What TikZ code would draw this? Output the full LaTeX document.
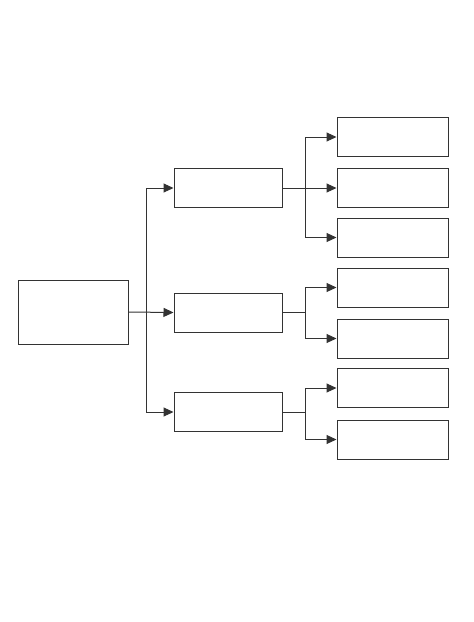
\documentclass[tikz,border=0pt]{standalone}
\usetikzlibrary{arrows.meta}
\tikzset{
 box/.style={draw, rectangle, inner sep=0pt, minimum width=#1, minimum height=39pt},
 arr/.style={-{Triangle[length=10pt,width=9pt]}},
}
\def \midx{228}
\def \leafx{392.5}

\begin{document}
\begin{tikzpicture}[x=1pt, y=-1pt, line width=1pt, color=black!80]
\useasboundingbox (0,0) rectangle (474,622);

\node[box=110pt, minimum height=64pt] (root) at (73, 312) {};

\node[box=108pt] (m1) at (\midx, 188) {};
\node[box=108pt] (m2) at (\midx, 312.5) {};
\node[box=108pt] (m3) at (\midx, 412) {};

\foreach \i/\y in {1/137, 2/188, 3/237.5, 4/287.5, 5/338.5, 6/388, 7/439.5}
 \node[box=111pt] (l\i) at (\leafx, \y) {};

\draw[arr] (root.east) -- (m2.west);
\draw[arr] ([xshift=18pt]root.east) |- (m1.west);
\draw[arr] ([xshift=18pt]root.east) |- (m3.west);

\draw[arr] (m1.east) -- (l2.west);
\draw[arr] ([xshift=23pt]m1.east) |- (l1.west);
\draw[arr] ([xshift=23pt]m1.east) |- (l3.west);

\draw (m2.east) -- ++(23pt,0);
\draw[arr] ([xshift=23pt]m2.east) |- (l4.west);
\draw[arr] ([xshift=23pt]m2.east) |- (l5.west);

\draw (m3.east) -- ++(23pt,0);
\draw[arr] ([xshift=23pt]m3.east) |- (l6.west);
\draw[arr] ([xshift=23pt]m3.east) |- (l7.west);
\end{tikzpicture}
\end{document}
